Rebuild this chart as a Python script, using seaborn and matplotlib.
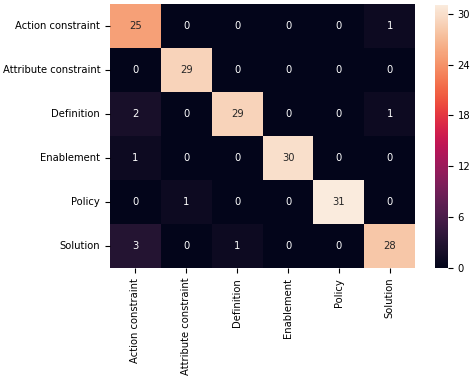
import matplotlib
matplotlib.use("Agg")
import matplotlib.pyplot as plt
import seaborn as sns
import pandas as pd

labels = ["Action constraint", "Attribute constraint", "Definition",
          "Enablement", "Policy", "Solution"]

row_action = [25, 0, 0, 0, 0, 1]
row_attribute = [0, 29, 0, 0, 0, 0]
row_definition = [2, 0, 29, 0, 0, 1]
row_enablement = [1, 0, 0, 30, 0, 0]
row_policy = [0, 1, 0, 0, 31, 0]
row_solution = [3, 0, 1, 0, 0, 28]

cm = pd.DataFrame([row_action, row_attribute, row_definition,
                   row_enablement, row_policy, row_solution],
                  index=labels, columns=labels)

fig = plt.figure(figsize=(4.74, 3.77), dpi=100)
ax = fig.add_axes([0.232, 0.289, 0.644, 0.700])
cax = fig.add_axes([0.918, 0.289, 0.027, 0.697])

sns.heatmap(cm, annot=True, fmt="d", ax=ax, cbar_ax=cax,
            annot_kws={"size": 7.2})

ax.tick_params(labelsize=7.2)
ax.set_xticklabels(labels, rotation=90)
ax.set_yticklabels(labels, rotation=0)
cax.set_yticks([0, 6, 12, 18, 24, 30])
cax.tick_params(labelsize=7.2)

fig.savefig("out.png", dpi=100)
